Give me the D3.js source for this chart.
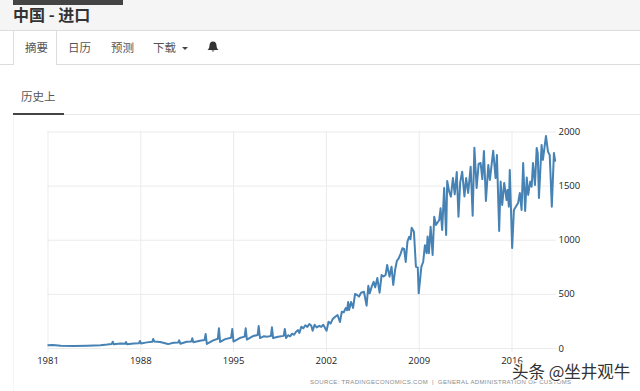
<!DOCTYPE html>
<html><head><meta charset="utf-8">
<script src="https://cdn.jsdelivr.net/npm/d3@7/dist/d3.min.js"></script>
<style>html,body{margin:0;padding:0;background:#fff;overflow:hidden}svg{display:block}</style>
</head><body><svg id="c" width="640" height="391"></svg>
<script>
const xTicks=[1981,1988,1995,2002,2009,2016];
const yTicks=[0,500,1000,1500,2000];
const tabs=["摘要","日历","预测","下载"];
const title="中国 - 进口";
const subTab="历史上";
const sourceText="SOURCE: TRADINGECONOMICS.COM  |  GENERAL ADMINISTRATION OF CUSTOMS";
const watermark="头条 @坐井观牛";

const earlyYears=[1981,1981.4,1982,1983,1984,1984.5,1985,1985.5,1985.85,1985.92,1986,1986.5,1986.85,1986.92,1987,1987.5,1987.9,1987.97,1988.05,1988.5,1988.9,1988.97,1989.05,1989.5,1989.95,1990.1,1990.5,1990.85,1990.93,1991.02,1991.5,1991.85,1991.92,1992,1992.5,1992.85,1992.93,1993.02,1993.5,1993.85,1993.93,1994.02,1994.4,1994.85,1994.94,1995.03,1995.5,1995.87,1995.95,1996.04,1996.5,1996.85,1996.93,1997.03,1997.3,1997.6,1997.85,1997.93,1998.02,1998.4,1998.82,1998.9,1999,1999.15,1999.3,1999.45,1999.6,1999.75,1999.9,2000];
const earlyValues=[25,28,20,18,20,22,25,32,38,58,34,42,40,55,34,42,45,65,42,52,58,83,60,56,42,36,48,50,71,40,58,60,90,54,66,74,129,37,70,85,182,56,82,95,176,60,92,105,182,78,110,120,203,92,108,105,110,191,92,104,112,176,92,118,108,132,122,150,165,139];

const midYears=[2000.15,2000.3,2000.45,2000.6,2000.75,2000.9,2001,2001.15,2001.3,2001.5,2001.65,2001.8,2002.05,2002.2,2002.35,2002.5,2002.7,2002.88,2003.06,2003.2,2003.35,2003.5,2003.6,2003.68,2003.75,2003.9,2004.05,2004.2,2004.35,2004.5,2004.65,2004.87,2005.07,2005.2,2005.3,2005.45,2005.6,2005.72,2005.88,2006.05,2006.2,2006.35,2006.5,2006.62,2006.8,2006.95,2007.08,2007.22,2007.35,2007.5,2007.65,2007.77,2007.9,2008.02,2008.15,2008.28,2008.38,2008.47,2008.64,2008.79];
const midValues=[197,182,210,195,222,205,160,215,190,205,195,215,160,243,225,265,289,305,240,335,330,370,350,425,351,425,370,499,490,475,510,520,391,575,505,565,612,560,646,511,674,660,674,767,659,751,582,720,804,830,875,921,915,795,982,1028,1005,1111,1075,751];

const lateYears=[2008.93,2009,2009.2,2009.34,2009.47,2009.6,2009.67,2009.77,2009.9,2010.05,2010.17,2010.3,2010.55,2010.65,2010.77,2010.92,2011.07,2011.15,2011.3,2011.43,2011.58,2011.72,2011.87,2012,2012.13,2012.28,2012.45,2012.58,2012.73,2012.92,2013.07,2013.2,2013.37,2013.52,2013.67,2013.8,2013.92,2014.07,2014.25,2014.37,2014.62,2014.8,2014.9,2015.07,2015.18,2015.3,2015.45,2015.63,2015.7,2015.8,2015.87,2016.05,2016.18,2016.3,2016.5,2016.63,2016.76,2016.88,2017.03,2017.15,2017.26,2017.41,2017.52,2017.62,2017.77,2017.9,2017.98,2018.07,2018.27,2018.37,2018.6,2018.75,2018.88,2018.93,2019.04,2019.2,2019.3];
const lateValues=[745,505,750,797,950,876,1030,876,1120,860,1213,1136,1183,1290,1090,1478,1044,1543,1444,1398,1570,1420,1626,1213,1530,1629,1400,1570,1432,1675,1222,1851,1478,1700,1709,1560,1820,1358,1691,1552,1823,1570,1783,1081,1537,1321,1525,1367,1460,1306,1645,924,1275,1300,1340,1432,1275,1709,1266,1574,1414,1537,1490,1709,1506,1848,1800,1386,1876,1737,1959,1814,1783,1645,1306,1802,1722];

const years=earlyYears.concat(midYears,lateYears);
const imports=earlyValues.concat(midValues,lateValues);

const svg=d3.select("#c");
const x=d3.scaleLinear().domain([1981,2016]).range([47.5,511.5]);
const y=d3.scaleLinear().domain([0,2000]).range([348,131.5]);
const cjk='"Noto Sans CJK SC","Noto Sans",sans-serif';

// page chrome
svg.append("rect").attr("width",640).attr("height",30).attr("fill","#f5f5f5");
svg.append("rect").attr("x",13).attr("width",110).attr("height",5).attr("fill","#444");
svg.append("line").attr("x1",0).attr("x2",640).attr("y1",30.5).attr("y2",30.5).attr("stroke","#ddd");
svg.append("text").attr("x",13).attr("y",21).attr("font-family",cjk).attr("font-size",16).attr("font-weight",700).attr("fill","#333").text(title);
svg.append("line").attr("x1",0).attr("x2",640).attr("y1",64.5).attr("y2",64.5).attr("stroke","#ddd");
svg.append("path").attr("d","M13.5,31V65M56.5,31V65").attr("stroke","#ddd").attr("fill","none");
svg.append("rect").attr("x",14).attr("y",60).attr("width",42).attr("height",6).attr("fill","#fff");
const tabX=[25,68,111,153];
svg.selectAll("text.tab").data(tabs).enter().append("text").attr("class","tab")
  .attr("x",(d,i)=>tabX[i]).attr("y",52).attr("font-family",cjk).attr("font-size",11.5).attr("fill","#555").text(d=>d);
svg.append("path").attr("d","M182,47h6l-3,3z").attr("fill","#444");
svg.append("path").attr("d","M213,41.5c-2.5,0-3.5,2-3.5,4c0,2.5-1,3.5-2,4.5h11c-1-1-2-2-2-4.5c0-2-1-4-3.5-4zM211.5,50.5a1.6,1.6 0 0 0 3,0z").attr("fill","#333");
svg.append("text").attr("x",21).attr("y",101).attr("font-family",cjk).attr("font-size",11.5).attr("fill","#555").text(subTab);
svg.append("line").attr("x1",13).attr("x2",640).attr("y1",114.5).attr("y2",114.5).attr("stroke","#e8e8e8");
svg.append("rect").attr("x",13).attr("y",113).attr("width",51).attr("height",2).attr("fill","#444");
svg.append("line").attr("x1",13.5).attr("x2",13.5).attr("y1",115).attr("y2",391).attr("stroke","#f6f6f6");

// axes
const xAxis=d3.axisBottom(x).tickValues(xTicks).tickFormat(d3.format("d")).tickSize(-221).tickPadding(5);
const yAxis=d3.axisRight(y).tickValues(yTicks).tickFormat(d3.format("d")).tickSize(508.5).tickPadding(2.5);
const gx=svg.append("g").attr("transform","translate(0,352)").call(xAxis);
const gy=svg.append("g").attr("transform","translate(47.5,0)").call(yAxis);
[gx,gy].forEach(g=>{
  g.select(".domain").remove();
  g.selectAll("line").attr("stroke","#ebebeb");
  g.selectAll("text").attr("font-family",'"Open Sans",sans-serif').attr("font-size",9.5).attr("fill","#222");
});

// series
const line=d3.line().x((d,i)=>x(years[i])).y(d=>y(d));
svg.append("path").datum(imports).attr("d",line).attr("fill","none").attr("stroke","#4682b4").attr("stroke-width",2).attr("stroke-linejoin","round");

// footer
svg.append("text").attr("x",310).attr("y",384).attr("font-family",'"Liberation Sans",sans-serif').attr("font-size",6).attr("letter-spacing",0.34).attr("fill","#8a8a8a").style("white-space","pre").text(sourceText);
svg.append("text").attr("x",512).attr("y",378).attr("font-family",cjk).attr("font-size",16.5).attr("fill","#333").attr("stroke","#fff").attr("stroke-width",2).style("paint-order","stroke").text(watermark);
</script></body></html>
